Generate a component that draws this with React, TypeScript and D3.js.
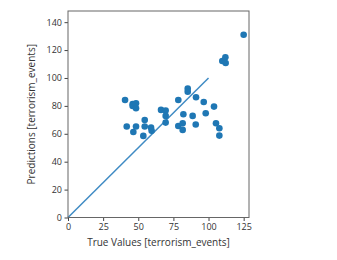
import { useRef, useEffect } from 'react'
import * as d3 from 'd3'

// values
const trueValues = [40.6, 41.8, 46.0, 48.4, 46.0, 48.4, 46.5, 48.4, 53.6, 54.6, 54.6, 59.1, 59.5,
  66.2, 69.5, 69.5, 69.5, 78.5, 78.5, 81.6, 82.1, 81.6, 85.2, 85.2, 91.1, 88.7, 90.9, 96.6,
  98.0, 103.9, 105.3, 107.7, 107.7, 109.8, 112.0, 112.2, 125.0]
const predictions = [84.2, 65.2, 81.4, 81.9, 80.0, 78.3, 61.3, 65.2, 58.5, 69.9, 65.2, 64.4, 62.1,
  77.1, 76.6, 72.8, 68.0, 84.2, 65.6, 67.5, 74.0, 62.8, 92.4, 90.2, 86.2, 72.8, 66.6, 82.8,
  74.7, 79.5, 67.5, 64.0, 58.7, 112.2, 114.8, 110.7, 131.0]
const identityLine = [0, 100]
const xTicks = [0, 25, 50, 75, 100, 125]
const yTicks = [0, 20, 40, 60, 80, 100, 120, 140]

const App = () => {
  const svgRef = useRef<SVGSVGElement>(null)

  useEffect(() => {
    const w = 337
    const h = 260
    const m = { left: 68, right: 88, top: 11, bottom: 42.5 }
    const font = 'Open Sans'
    const svg = d3.select(svgRef.current)
      .attr('width', w)
      .attr('height', h)
      .style('font-family', font)
    svg.selectAll('*').remove()

    const x = d3.scaleLinear().domain([0, 128.8]).range([m.left, w - m.right])
    const y = d3.scaleLinear().domain([0, 148]).range([h - m.bottom, m.top])

    // identity line
    const line = d3.line<number>().x(d => x(d)).y(d => y(d))
    svg.append('path')
      .attr('d', line(identityLine))
      .attr('fill', 'none')
      .attr('stroke', '#3f8bc4')
      .attr('stroke-width', 1.5)

    svg.selectAll('.dot')
      .data(trueValues)
      .join('circle')
      .attr('class', 'dot')
      .attr('cx', d => x(d))
      .attr('cy', (d, i) => y(predictions[i]))
      .attr('r', 3.3)
      .attr('fill', '#1f77b4')

    // axes
    const xAxis = d3.axisBottom(x).tickValues(xTicks).tickSize(3.5).tickPadding(2.5)
    const yAxis = d3.axisLeft(y).tickValues(yTicks).tickSize(3.5).tickPadding(2.5)
    const gx = svg.append('g')
      .attr('transform', `translate(0, ${h - m.bottom})`)
      .call(xAxis)
    const gy = svg.append('g')
      .attr('transform', `translate(${m.left}, 0)`)
      .call(yAxis)
    for (const g of [gx, gy]) {
      g.select('.domain').remove()
      g.selectAll('line').attr('stroke', '#444')
      g.selectAll('text').attr('fill', '#333').style('font-size', '9px').style('font-family', font)
    }

    // frame
    svg.append('rect')
      .attr('x', m.left)
      .attr('y', m.top)
      .attr('width', w - m.right - m.left)
      .attr('height', h - m.bottom - m.top)
      .attr('fill', 'none')
      .attr('stroke', '#666')
      .attr('stroke-width', 1)

    svg.append('text')
      .attr('x', (m.left + w - m.right) / 2)
      .attr('y', 246)
      .attr('text-anchor', 'middle')
      .attr('fill', '#333')
      .style('font-size', '10px')
      .text('True Values [terrorism_events]')

    svg.append('text')
      .attr('transform', `translate(35, ${(m.top + h - m.bottom) / 2}) rotate(-90)`)
      .attr('text-anchor', 'middle')
      .attr('fill', '#333')
      .style('font-size', '10px')
      .text('Predictions [terrorism_events]')
  }, [])

  return (
    <div>
      <svg ref={svgRef} style={{ position: 'absolute', left: 0, top: 0 }}></svg>
    </div>
  )
}

export default App
